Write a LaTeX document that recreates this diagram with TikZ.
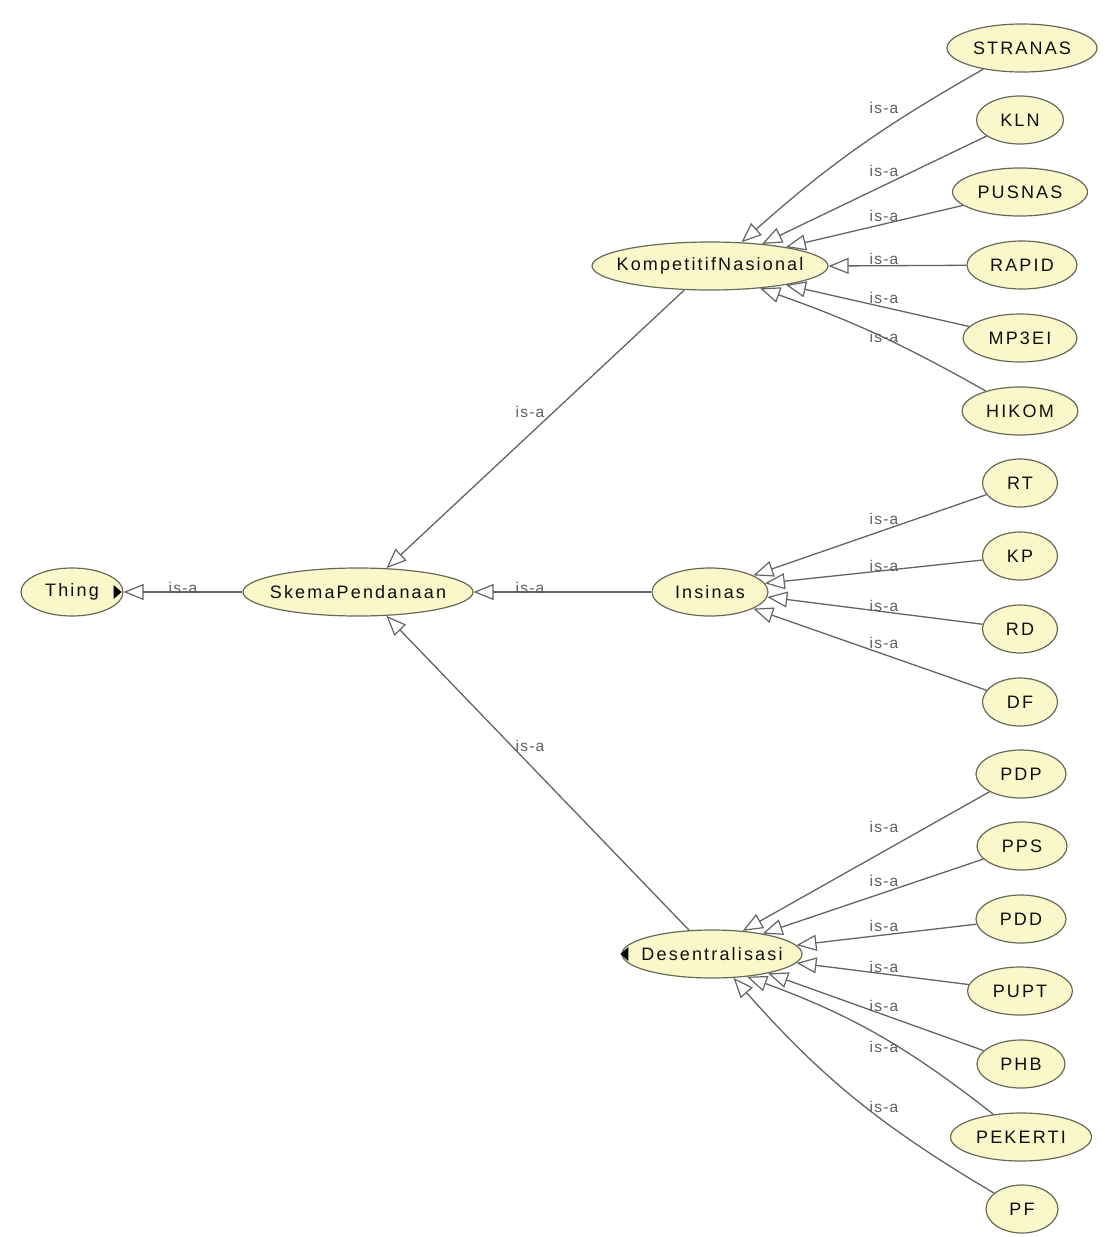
\documentclass[tikz,border=0pt]{standalone}
\usepackage{fontspec}
\usetikzlibrary{shapes.geometric,arrows.meta}
\newfontfamily\nodefontfam{Liberation Sans}[LetterSpace=12]
\newfontfamily\lblfontfam{Liberation Sans}[LetterSpace=8]
\definecolor{fillcol}{RGB}{250,248,202}
\definecolor{bordercol}{RGB}{105,105,88}
\definecolor{edgecol}{RGB}{100,100,100}
\definecolor{lblcol}{RGB}{95,95,95}
\definecolor{txtcol}{RGB}{15,15,15}
\tikzset{
  cls/.style={ellipse, draw=bordercol, fill=fillcol, line width=1.2pt,
    inner xsep=-120pt, inner ysep=-30pt, minimum height=48pt,
    text=txtcol, font=\nodefontfam\fontsize{18}{20}\selectfont},
  isa/.style={draw=edgecol, line width=1.3pt,
    -{Triangle[open, length=20pt, width=16pt, line width=1.2pt]}},
  lbl/.style={font=\lblfontfam\fontsize{15.5}{17}\selectfont, text=lblcol, inner sep=0pt}
}
\begin{document}
\begin{tikzpicture}[x=1pt,y=-1pt]
\useasboundingbox[fill=white] (0,0) rectangle (1104,1237);

% main nodes
\node[cls, minimum width=102pt] (thing) at (72,592) {Thing};
\node[cls, minimum width=230pt] (skema) at (358,592) {SkemaPendanaan};
\node[cls, minimum width=236pt] (komp) at (710,266) {KompetitifNasional};
\node[cls, minimum width=116pt] (insinas) at (710,592) {Insinas};
\node[cls, minimum width=180pt] (desen) at (712,954) {Desentralisasi};

% KompetitifNasional children
\node[cls, minimum width=150pt] (stranas) at (1022,48) {STRANAS};
\node[cls, minimum width=87pt] (kln) at (1020,120) {KLN};
\node[cls, minimum width=135pt] (pusnas) at (1020,192) {PUSNAS};
\node[cls, minimum width=110pt] (rapid) at (1022,265) {RAPID};
\node[cls, minimum width=114pt] (mpei) at (1020,338) {MP3EI};
\node[cls, minimum width=116pt] (hikom) at (1020,411) {HIKOM};

% Insinas children
\node[cls, minimum width=75pt] (rt) at (1020,483) {RT};
\node[cls, minimum width=75pt] (kp) at (1020,556) {KP};
\node[cls, minimum width=75pt] (rd) at (1020,629) {RD};
\node[cls, minimum width=75pt] (df) at (1020,702) {DF};

% Desentralisasi children
\node[cls, minimum width=90pt] (pdp) at (1021,774) {PDP};
\node[cls, minimum width=90pt] (pps) at (1022,846) {PPS};
\node[cls, minimum width=90pt] (pdd) at (1021,919) {PDD};
\node[cls, minimum width=105pt] (pupt) at (1020,991) {PUPT};
\node[cls, minimum width=88pt] (phb) at (1021,1064) {PHB};
\node[cls, minimum width=141pt] (pekerti) at (1021,1137) {PEKERTI};
\node[cls, minimum width=72pt] (pf) at (1022,1209) {PF};

% expand markers
\fill[black] ([xshift=-2pt]thing.east) -- ++(-8,-7) -- ++(0,14) -- cycle;
\fill[black] ([xshift=-1pt]desen.west) -- ++(8,-7) -- ++(0,14) -- cycle;

% edges
\draw[isa] (skema) -- (thing.east);
\draw[isa] (komp) -- (skema.40);
\draw[isa] (insinas) -- (skema.east);
\draw[isa] (desen) -- (skema.-40);

\draw[isa] (stranas) to[bend right=6] (komp.37);
\draw[isa] (kln) -- (komp.23);
\draw[isa] (pusnas) -- (komp.14);
\draw[isa] (rapid) -- (komp.east);
\draw[isa] (mpei) -- (komp.-14);
\draw[isa] (hikom) to[bend right=5] (komp.-24);

\draw[isa] (rt) -- (insinas.21);
\draw[isa] (kp) -- (insinas.9);
\draw[isa] (rd) -- (insinas.-5);
\draw[isa] (df) -- (insinas.-21);

\draw[isa] (pdp) -- (desen.37);
\draw[isa] (pps) -- (desen.22);
\draw[isa] (pdd) -- (desen.6);
\draw[isa] (pupt) -- (desen.-6);
\draw[isa] (phb) -- (desen.-19);
\draw[isa] (pekerti) to[bend right=9] (desen.-33);
\draw[isa] (pf) to[bend left=9] (desen.-48);

% labels
\node[lbl] (l0) at (183,588) {is-a};
\node[lbl] (l1) at (530,412) {is-a};
\node[lbl] (l2) at (530,588) {is-a};
\node[lbl] (l3) at (530,746) {is-a};
\node[lbl] (la) at (884,108) {is-a};
\node[lbl] (lb) at (884,171) {is-a};
\node[lbl] (lc) at (884,216) {is-a};
\node[lbl] (ld) at (884,259) {is-a};
\node[lbl] (le) at (884,298) {is-a};
\node[lbl] (lf) at (884,337) {is-a};
\node[lbl] (lg) at (884,519) {is-a};
\node[lbl] (lh) at (884,566) {is-a};
\node[lbl] (li) at (884,606) {is-a};
\node[lbl] (lj) at (884,643) {is-a};
\node[lbl] (lk) at (884,827) {is-a};
\node[lbl] (ll) at (884,881) {is-a};
\node[lbl] (lm) at (884,926) {is-a};
\node[lbl] (ln) at (884,967) {is-a};
\node[lbl] (lo) at (884,1006) {is-a};
\node[lbl] (lp) at (884,1047) {is-a};
\node[lbl] (lq) at (884,1107) {is-a};
\end{tikzpicture}
\end{document}
